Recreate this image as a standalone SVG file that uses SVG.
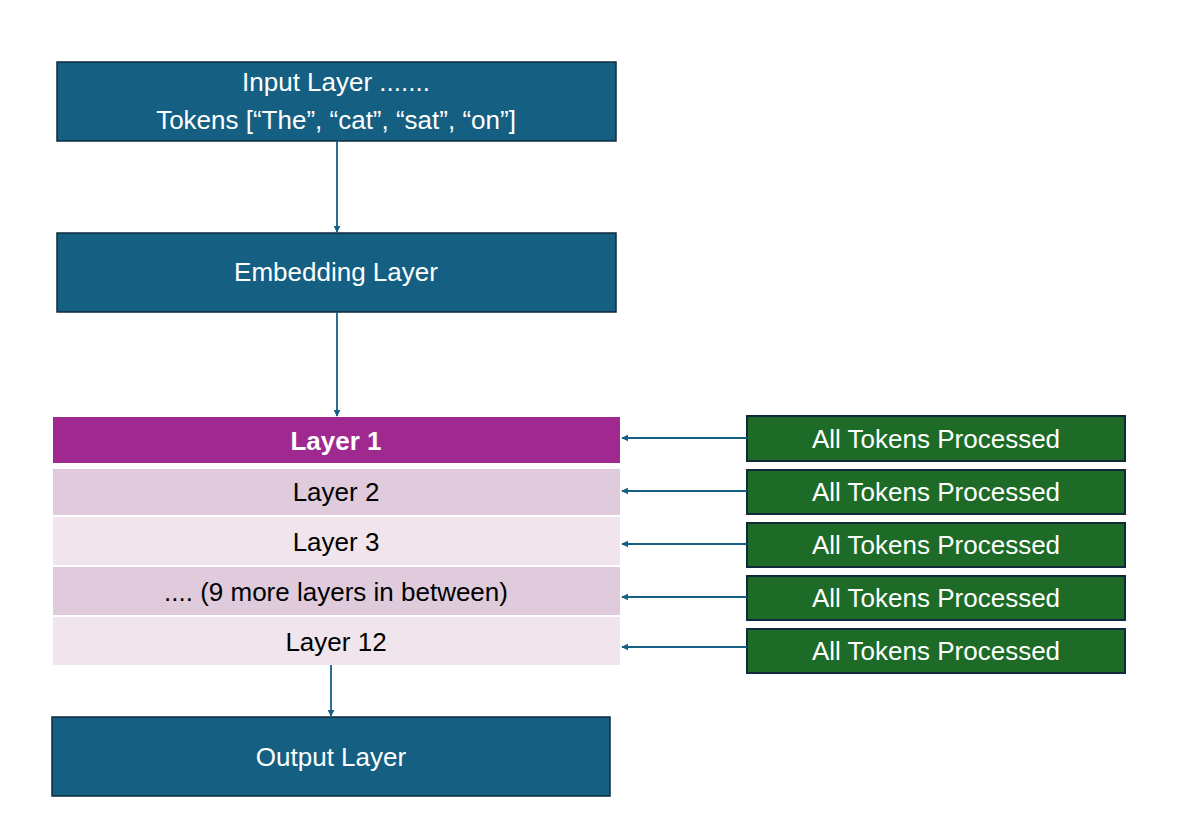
<svg xmlns="http://www.w3.org/2000/svg" width="1200" height="829" viewBox="0 0 1200 829">
<style>
.blue{fill:#155f82;stroke:#0f2a3d;stroke-width:1.5}
.green{fill:#1d6b26;stroke:#0f2a3d;stroke-width:2}
text{font-family:"Liberation Sans",Arial,sans-serif;font-size:26px;text-anchor:middle;dominant-baseline:central}
.w{fill:#fff}.k{fill:#000}
.c{stroke:#155f82;stroke-width:1.8;fill:none;marker-end:url(#a)}
</style>
<defs><marker id="a" viewBox="0 0 10 10" refX="9" refY="5" markerWidth="7" markerHeight="7" orient="auto" markerUnits="userSpaceOnUse"><path d="M0,0L10,5L0,10z" fill="#155f82"/></marker></defs>
<rect width="1200" height="829" fill="#fff"/>
<g id="input"><rect class="blue" x="57" y="62" width="559" height="79"/><text class="w" x="336" y="82">Input Layer .......</text><text class="w" x="336" y="120">Tokens [“The”, “cat”, “sat”, “on”]</text></g>
<g id="embedding"><rect class="blue" x="57" y="233" width="559" height="79"/><text class="w" x="336" y="272">Embedding Layer</text></g>
<g id="layer1"><rect x="53" y="417" width="567" height="46" fill="#a0298f"/><text class="w" x="336" y="441" font-weight="bold">Layer 1</text></g>
<g id="layer2"><rect x="53" y="469" width="567" height="46" fill="#dfcbdb"/><text class="k" x="336" y="492">Layer 2</text></g>
<g id="layer3"><rect x="53" y="517" width="567" height="48" fill="#f0e5ec"/><text class="k" x="336" y="542">Layer 3</text></g>
<g id="layerdots"><rect x="53" y="567" width="567" height="48" fill="#dfcbdb"/><text class="k" x="336" y="592">.... (9 more layers in between)</text></g>
<g id="layer12"><rect x="53" y="617" width="567" height="48" fill="#f0e5ec"/><text class="k" x="336" y="642">Layer 12</text></g>
<g id="output"><rect class="blue" x="52" y="717" width="558" height="79"/><text class="w" x="331" y="757">Output Layer</text></g>
<g id="tok1"><rect class="green" x="747" y="416" width="378" height="45"/><text class="w" x="936" y="439">All Tokens Processed</text></g>
<g id="tok2"><rect class="green" x="747" y="470" width="378" height="44"/><text class="w" x="936" y="492">All Tokens Processed</text></g>
<g id="tok3"><rect class="green" x="747" y="523" width="378" height="44"/><text class="w" x="936" y="545">All Tokens Processed</text></g>
<g id="tok4"><rect class="green" x="747" y="576" width="378" height="44"/><text class="w" x="936" y="598">All Tokens Processed</text></g>
<g id="tok5"><rect class="green" x="747" y="629" width="378" height="44"/><text class="w" x="936" y="651">All Tokens Processed</text></g>
<g id="connectors">
<path class="c" d="M337,141V232"/>
<path class="c" d="M337,312V416"/>
<path class="c" d="M331,665V716"/>
<path class="c" d="M747,438H622"/>
<path class="c" d="M747,491H622"/>
<path class="c" d="M747,544H622"/>
<path class="c" d="M747,597H622"/>
<path class="c" d="M747,647H622"/>
</g>
</svg>
